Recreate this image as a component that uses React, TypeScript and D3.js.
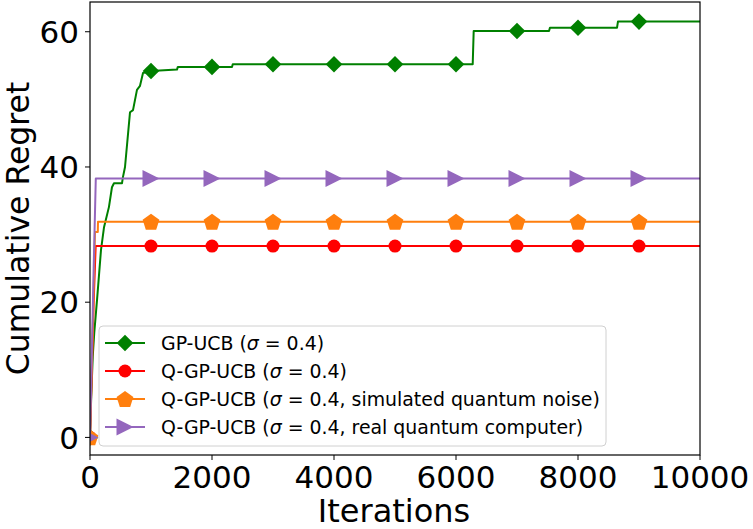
import React, { useEffect, useRef } from 'react';
import * as d3 from 'd3';

// Iterations on x, cumulative regret on y
const iterTicks = [0, 2000, 4000, 6000, 8000, 10000];
const regretTicks = [0, 20, 40, 60];
const markerIters = [0, 1000, 2000, 3000, 4000, 5000, 6000, 7000, 8000, 9000];

const gpIter = [0, 20, 45, 70, 115, 180, 230, 311, 360, 393, 525, 540, 574, 656, 705, 770, 820, 869, 1000, 1426, 1440, 2328, 2340, 6274, 6290, 7525, 7540, 8640, 8655, 10000];
const gpRegret = [0, 6, 12, 15.5, 20.3, 27.7, 31.1, 34.1, 37.0, 37.6, 37.6, 38.5, 40.0, 48.1, 48.4, 51.4, 52.0, 53.9, 54.2, 54.4, 54.8, 54.8, 55.2, 55.2, 60.1, 60.1, 60.6, 60.6, 61.5, 61.5];

const qIter = [0, 30, 60, 93, 10000];
const qRegret = [0, 10, 20, 28.3, 28.3];

const qNoiseIter = [0, 40, 82, 128, 131, 10000];
const qNoiseRegret = [0, 14, 30.4, 30.4, 31.9, 31.9];

const qRealIter = [0, 20, 60, 95, 10000];
const qRealRegret = [0, 8, 25, 38.3, 38.3];

const seriesNames = [
  ['GP-UCB (', ')'],
  ['Q-GP-UCB (', ')'],
  ['Q-GP-UCB (', ', simulated quantum noise)'],
  ['Q-GP-UCB (', ', real quantum computer)'],
];
const seriesColors = ['#008000', '#ff0000', '#ff7f0e', '#9467bd'];
const seriesMarkers = ['diamond', 'circle', 'pentagon', 'triangle'];

const markerPath = (kind: string) => {
  if (kind === 'diamond') return 'M0,-8.3L8.3,0L0,8.3L-8.3,0Z';
  if (kind === 'circle') return d3.symbol(d3.symbolCircle, Math.PI * 6.5 * 6.5)()!;
  if (kind === 'pentagon') {
    const r = 8.8;
    const pts = d3.range(5).map(i => {
      const a = -Math.PI / 2 + (i * 2 * Math.PI) / 5;
      return [r * Math.cos(a), r * Math.sin(a) + 0.8];
    });
    return 'M' + pts.map(p => p.join(',')).join('L') + 'Z';
  }
  return 'M8.5,0L-8.5,-8.5L-8.5,8.5Z';
};

const App: React.FC = () => {
  const svgRef = useRef<SVGSVGElement>(null);

  useEffect(() => {
    if (!svgRef.current) return;
    const svg = d3.select(svgRef.current);
    svg.selectAll('*').remove();

    const left = 90, right = 700, top = 2, bottom = 455;
    const x = d3.scaleLinear().domain([0, 10000]).range([left, right]);
    const y = d3.scaleLinear().domain([-2.6, 64.4]).range([bottom, top]);
    const font = 'DejaVu Sans, sans-serif';

    svg.append('defs').append('clipPath').attr('id', 'plot-clip')
      .append('rect').attr('x', left).attr('y', top)
      .attr('width', right - left).attr('height', bottom - top);

    const series = [
      { iter: gpIter, val: gpRegret },
      { iter: qIter, val: qRegret },
      { iter: qNoiseIter, val: qNoiseRegret },
      { iter: qRealIter, val: qRealRegret },
    ];

    const plot = svg.append('g').attr('clip-path', 'url(#plot-clip)');
    const line = d3.line<[number, number]>().x(d => x(d[0])).y(d => y(d[1]));

    series.forEach((s, i) => {
      const pts = s.iter.map((t, j) => [t, s.val[j]] as [number, number]);
      plot.append('path')
        .attr('d', line(pts))
        .attr('fill', 'none')
        .attr('stroke', seriesColors[i])
        .attr('stroke-width', 2)
        .attr('stroke-linejoin', 'round');
      // value of the drawn line at each marker iteration
      const at = (t: number) => {
        const k = d3.bisectRight(s.iter, t) - 1;
        if (k >= s.iter.length - 1) return s.val[s.val.length - 1];
        const f = (t - s.iter[k]) / (s.iter[k + 1] - s.iter[k]);
        return s.val[k] + f * (s.val[k + 1] - s.val[k]);
      };
      plot.selectAll(null)
        .data(markerIters)
        .enter()
        .append('path')
        .attr('d', markerPath(seriesMarkers[i]))
        .attr('transform', t => `translate(${x(t)},${y(at(t))})`)
        .attr('fill', seriesColors[i]);
    });

    // spines
    svg.append('rect')
      .attr('x', left).attr('y', top)
      .attr('width', right - left).attr('height', bottom - top)
      .attr('fill', 'none').attr('stroke', '#000').attr('stroke-width', 1.2);

    // x ticks
    const xt = svg.append('g');
    iterTicks.forEach(t => {
      xt.append('line').attr('x1', x(t)).attr('x2', x(t))
        .attr('y1', bottom).attr('y2', bottom + 5).attr('stroke', '#000');
      xt.append('text').attr('x', x(t)).attr('y', 488)
        .attr('text-anchor', 'middle').attr('font-family', font)
        .attr('font-size', 31).attr('fill', '#000').text(t);
    });

    // y ticks
    const yt = svg.append('g');
    regretTicks.forEach(t => {
      yt.append('line').attr('x1', left - 5).attr('x2', left)
        .attr('y1', y(t)).attr('y2', y(t)).attr('stroke', '#000');
      yt.append('text').attr('x', 79).attr('y', y(t)).attr('dy', '0.36em')
        .attr('text-anchor', 'end').attr('font-family', font)
        .attr('font-size', 31).attr('fill', '#000').text(t);
    });

    svg.append('text').attr('x', (left + right) / 2 - 1).attr('y', 522)
      .attr('text-anchor', 'middle').attr('font-family', font)
      .attr('font-size', 32).attr('fill', '#000').text('Iterations');

    svg.append('text')
      .attr('transform', `translate(29,${(top + bottom) / 2}) rotate(-90)`)
      .attr('text-anchor', 'middle').attr('font-family', font)
      .attr('font-size', 31.5).attr('fill', '#000').text('Cumulative Regret');

    // legend
    const lg = svg.append('g');
    lg.append('rect')
      .attr('x', 99).attr('y', 326).attr('width', 507).attr('height', 120)
      .attr('rx', 4)
      .attr('fill', '#fff').attr('fill-opacity', 0.8)
      .attr('stroke', '#d0d0d0').attr('stroke-width', 1);

    seriesNames.forEach((name, i) => {
      const cy = 343 + i * 28;
      lg.append('line').attr('x1', 105).attr('x2', 145)
        .attr('y1', cy).attr('y2', cy)
        .attr('stroke', seriesColors[i]).attr('stroke-width', 2);
      lg.append('path').attr('d', markerPath(seriesMarkers[i]))
        .attr('transform', `translate(125,${cy})`)
        .attr('fill', seriesColors[i]);
      const tx = lg.append('text').attr('x', 161).attr('y', cy).attr('dy', '0.36em')
        .attr('font-family', font).attr('font-size', 18.9).attr('fill', '#000');
      tx.append('tspan').text(name[0]);
      tx.append('tspan').attr('font-style', 'italic').text('σ');
      tx.append('tspan').text(' = 0.4' + name[1]);
    });
  }, []);

  return (
    <svg
      ref={svgRef}
      width={753}
      height={529}
      viewBox="0 0 753 529"
      style={{ position: 'absolute', left: 0, top: 0, background: '#fff' }}
    />
  );
};

export default App;
